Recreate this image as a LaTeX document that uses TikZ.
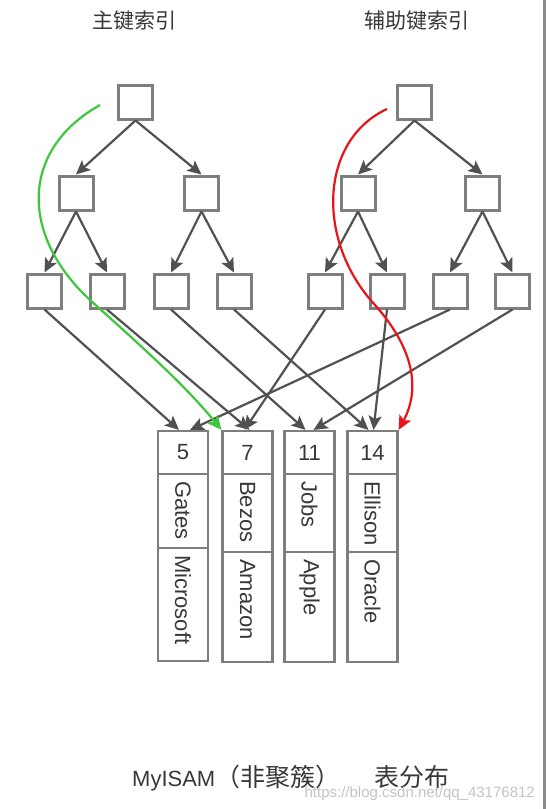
\documentclass[tikz,border=0pt]{standalone}
\usepackage{fontspec}
\setmainfont{Liberation Sans}
\newfontfamily\cjk{Noto Sans CJK SC}
\usetikzlibrary{calc,arrows.meta}

\definecolor{boxgray}{HTML}{7E7E7E}
\definecolor{edgegray}{HTML}{505153}
\definecolor{textgray}{HTML}{383838}
\definecolor{markgreen}{HTML}{3CC83C}
\definecolor{markred}{HTML}{E81419}
\definecolor{wmgray}{HTML}{C4C4C4}
\definecolor{edgebar}{HTML}{8A8A8A}

\tikzset{
  key/.style={draw=boxgray, line width=3pt, fill=white, minimum size=34pt, inner sep=0pt},
  link/.style={edgegray, line width=2.2pt, -{Stealth[length=14pt,width=13pt,inset=3pt]}},
  trail/.style={line width=2.2pt, -{Stealth[length=14pt,width=13pt,inset=3pt]}},
  cell/.style={draw=boxgray, line width=2.2pt, fill=white, minimum width=50pt, inner sep=0pt,
    text=textgray, font=\fontsize{22}{22}\selectfont},
  vtext/.style={rotate=-90, anchor=west, inner sep=0pt, text=textgray, font=\fontsize{22}{22}\selectfont},
  title/.style={text=textgray, font=\cjk\fontsize{21}{21}\selectfont}
}

\begin{document}
\begin{tikzpicture}[x=1pt,y=-1pt]
    \useasboundingbox (0,0) rectangle (546,809);
    \fill[white] (0,0) rectangle (546,809);
    \fill[edgebar] (543,0) rectangle (546,809);

    % titles
    \node[title] (ptitle) at (134.5,21) {主键索引};
    \node[title] (stitle) at (416.5,21) {辅助键索引};

    % primary key tree
    \node[key] (proot) at (135.5,102) {};
    \node[key] (pl) at (76,193) {};
    \node[key] (pr) at (201.5,193) {};
    \node[key] (pll) at (44.5,291) {};
    \node[key] (plr) at (107,291) {};
    \node[key] (prl) at (171,291) {};
    \node[key] (prr) at (234,291) {};

    % secondary key tree
    \node[key] (sroot) at (414.5,102) {};
    \node[key] (sl) at (358,193) {};
    \node[key] (sr) at (482.5,193) {};
    \node[key] (sll) at (325,291) {};
    \node[key] (slr) at (387,291) {};
    \node[key] (srl) at (450,291) {};
    \node[key] (srr) at (512.5,291) {};

    % tree edges
    \draw[link] (proot.south) -- (pl.north);
    \draw[link] (proot.south) -- (pr.north);
    \draw[link] (pl.south) -- (pll.north);
    \draw[link] (pl.south) -- (plr.north);
    \draw[link] (pr.south) -- (prl.north);
    \draw[link] (pr.south) -- (prr.north);
    \draw[link] (sroot.south) -- (sl.north);
    \draw[link] (sroot.south) -- (sr.north);
    \draw[link] (sl.south) -- (sll.north);
    \draw[link] (sl.south) -- (slr.north);
    \draw[link] (sr.south) -- (srl.north);
    \draw[link] (sr.south) -- (srr.north);

    % records
    \node[cell, minimum height=43pt] (key5) at (183,452.5) {5};
    \node[cell, minimum height=74pt] (name5) at (183,511) {};
    \node[cell, minimum height=113pt] (firm5) at (183,604.5) {};
    \node[cell, minimum height=43pt] (key7) at (247.5,452.5) {7};
    \node[cell, minimum height=78pt] (name7) at (247.5,513) {};
    \node[cell, minimum height=110pt] (firm7) at (247.5,607) {};
    \node[cell, minimum height=43pt] (key11) at (309.5,452.5) {11};
    \node[cell, minimum height=78pt] (name11) at (309.5,513) {};
    \node[cell, minimum height=110pt] (firm11) at (309.5,607) {};
    \node[cell, minimum height=43pt] (key14) at (372.5,452.5) {14};
    \node[cell, minimum height=78pt] (name14) at (372.5,513) {};
    \node[cell, minimum height=110pt] (firm14) at (372.5,607) {};

    \node[vtext] at ([yshift=-8pt]name5.north) {Gates};
    \node[vtext] at ([yshift=-8pt]firm5.north) {Microsoft};
    \node[vtext] at ([yshift=-8pt]name7.north) {Bezos};
    \node[vtext] at ([yshift=-8pt]firm7.north) {Amazon};
    \node[vtext] at ([yshift=-8pt]name11.north) {Jobs};
    \node[vtext] at ([yshift=-8pt]firm11.north) {Apple};
    \node[vtext] at ([yshift=-8pt]name14.north) {Ellison};
    \node[vtext] at ([yshift=-8pt]firm14.north) {Oracle};

    % leaves to records
    \draw[link] (pll.south) -- ([xshift=-4pt]key5.north);
    \draw[link] (plr.south) -- ([xshift=2pt]key7.north);
    \draw[link] (prl.south) -- ([xshift=-4pt]key11.north);
    \draw[link] (prr.south) -- ([xshift=-4pt]key14.north);
    \draw[link] (sll.south) -- ([xshift=-3pt]key7.north);
    \draw[link] (slr.south) -- ([xshift=1pt]key14.north);
    \draw[link] (srl.south) -- ([xshift=7pt]key5.north);
    \draw[link] (srr.south) -- ([xshift=4pt]key11.north);

    % search paths
    \coordinate (gstart) at (100,105);
    \coordinate (rstart) at (387,109);
    \draw[trail, markgreen] (gstart) .. controls (20,150) and (20,235) .. (90,300)
        .. controls (140,345) and (185,385) .. (key7.north west);
    \draw[trail, markred] (rstart) .. controls (320,140) and (315,240) .. (375,305)
        .. controls (415,350) and (420,390) .. (key14.north east);

    % caption
    \node[anchor=west, inner sep=0pt, text=textgray, font=\fontsize{22}{22}\selectfont]
        (caption) at (132,778) {MyISAM{\cjk\fontsize{25}{25}\selectfont （非聚簇）\hspace{34pt}表分布}};
    \node[anchor=east, inner sep=0pt, text=wmgray, font=\fontsize{15}{15}\selectfont]
        (mark) at (535,794) {https://blog.csdn.net/qq\_43176812};
\end{tikzpicture}
\end{document}
